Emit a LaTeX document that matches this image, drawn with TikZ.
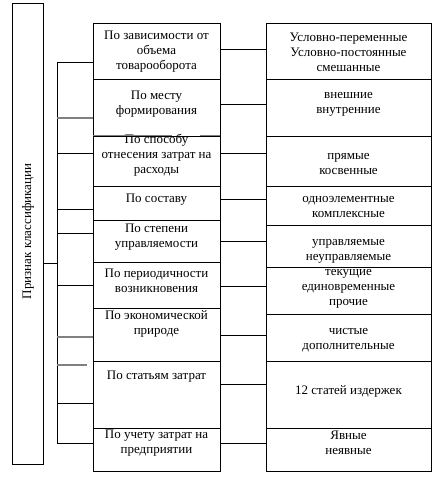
\documentclass[tikz,border=0pt]{standalone}
\usepackage{fontspec}
\setmainfont{Liberation Serif}
\begin{document}
\begin{tikzpicture}[
		x=1pt, y=-1pt,
		kb/.style={rectangle, draw, line width=0.8pt, minimum width=31pt, minimum height=461pt, inner sep=0pt},
		mb/.style={rectangle, draw, line width=0.8pt, minimum width=127pt, inner sep=0pt},
		rb/.style={rectangle, draw, line width=0.8pt, minimum width=165pt, inner sep=0pt},
		tx/.style={align=center, inner sep=0pt, yshift=-1.5pt, font=\fontsize{13}{15}\selectfont},
		ln/.style={line width=0.8pt},
		gl/.style={line width=1.2pt, draw=black!50}
		]
		
		\useasboundingbox (0,0) rectangle (438,480);
		
		%Nodes
		\node[kb]			(k)		at (27.5, 233.5)	{};
		\node[tx, rotate=90]	(kt)	at (28, 230)		{Признак классификации};
		
		\node[mb, minimum height=56pt]	(m1)	at (156.5, 51)		{};
		\node[mb, minimum height=57pt]	(m2)	at (156.5, 107.5)	{};
		\node[mb, minimum height=50pt]	(m3)	at (156.5, 161)		{};
		\node[mb, minimum height=34pt]	(m4)	at (156.5, 203)		{};
		\node[mb, minimum height=42pt]	(m5)	at (156.5, 241)		{};
		\node[mb, minimum height=46pt]	(m6)	at (156.5, 285)		{};
		\node[mb, minimum height=53pt]	(m7)	at (156.5, 334.5)	{};
		\node[mb, minimum height=67pt]	(m8)	at (156.5, 394.5)	{};
		\node[mb, minimum height=43pt]	(m9)	at (156.5, 449.5)	{};
		
		\node[rb, minimum height=56pt]	(r1)	at (348.5, 51)		{};
		\node[rb, minimum height=57pt]	(r2)	at (348.5, 107.5)	{};
		\node[rb, minimum height=50pt]	(r3)	at (348.5, 161)		{};
		\node[rb, minimum height=39pt]	(r4)	at (348.5, 205.5)	{};
		\node[rb, minimum height=42pt]	(r5)	at (348.5, 246)		{};
		\node[rb, minimum height=47pt]	(r6)	at (348.5, 290.5)	{};
		\node[rb, minimum height=47pt]	(r7)	at (348.5, 337.5)	{};
		\node[rb, minimum height=67pt]	(r8)	at (348.5, 394.5)	{};
		\node[rb, minimum height=43pt]	(r9)	at (348.5, 449.5)	{};
		
		%Texts
		\node[tx]	(m1t)	at (m1 |- 0,50.5)	{По зависимости от\\ объема\\ товарооборота};
		\node[tx]	(m2t)	at (m2 |- 0,103)	{По месту\\ формирования};
		\node[tx]	(m3t)	at (m3 |- 0,153.5)	{По способу\\ отнесения затрат на\\ расходы};
		\node[tx]	(m4t)	at (m4 |- 0,198)	{По составу};
		\node[tx]	(m5t)	at (m5 |- 0,235.5)	{По степени\\ управляемости};
		\node[tx]	(m6t)	at (m6 |- 0,279.5)	{По периодичности\\ возникновения};
		\node[tx]	(m7t)	at (m7 |- 0,322.5)	{По экономической\\ природе};
		\node[tx]	(m8t)	at (m8 |- 0,375)	{По статьям затрат};
		\node[tx]	(m9t)	at (m9 |- 0,441.5)	{По учету затрат на\\ предприятии};
		
		\node[tx]	(r1t)	at (r1 |- 0,50.5)	{Условно-переменные\\ Условно-постоянные\\ смешанные};
		\node[tx]	(r2t)	at (r2 |- 0,103)	{внешние\\ внутренние};
		\node[tx]	(r3t)	at (r3 |- 0,162)	{прямые\\ косвенные};
		\node[tx]	(r4t)	at (r4 |- 0,205)	{одноэлементные\\ комплексные};
		\node[tx]	(r5t)	at (r5 |- 0,250)	{управляемые\\ неуправляемые};
		\node[tx]	(r6t)	at (r6 |- 0,287)	{текущие\\ единовременные\\ прочие};
		\node[tx]	(r7t)	at (r7 |- 0,338.5)	{чистые\\ дополнительные};
		\node[tx]	(r8t)	at (r8 |- 0,390)	{12 статей издержек};
		\node[tx]	(r9t)	at (r9 |- 0,441)	{Явные\\ неявные};
		
		\coordinate (bt) at (57, 62);
		\coordinate (bb) at (57, 443);
		
		%Lines
		\draw[ln] (m1.west |- bt) -- (bt) -- (bb) -- (m9.west |- bb);
		\draw[ln] (k.east |- 0,263) -- (bt |- 0,263);
		
		\draw[gl] (bt |- 0,118) -- (m2.west |- 0,118);
		\draw[ln] (bt |- 0,153) -- (m3.west |- 0,153);
		\draw[ln] (bt |- 0,209) -- (m4.west |- 0,209);
		\draw[ln] (bt |- 0,233) -- (m5.west |- 0,233);
		\draw[ln] (bt |- 0,285) -- (m6.west |- 0,285);
		\draw[gl] (bt |- 0,337) -- (m7.west |- 0,337);
		\draw[gl] (bt |- 0,365) -- ([xshift=-6pt]m8.west |- 0,365);
		\draw[ln] (bt |- 0,403) -- (m8.west |- 0,403);
		\draw[gl] (m3.north west) -- ++(79,0);
		\draw[gl] (m3.north east) -- ++(-20,0);
		
		\draw[ln] (m1.east |- 0,49)  -- (r1.west |- 0,49);
		\draw[ln] (m2.east |- 0,104) -- (r2.west |- 0,104);
		\draw[ln] (m3.east |- 0,153) -- (r3.west |- 0,153);
		\draw[ln] (m4.east |- 0,199) -- (r4.west |- 0,199);
		\draw[ln] (m5.east |- 0,241) -- (r5.west |- 0,241);
		\draw[ln] (m6.east |- 0,286) -- (r6.west |- 0,286);
		\draw[ln] (m7.east |- 0,335) -- (r7.west |- 0,335);
		\draw[ln] (m8.east |- 0,384) -- (r8.west |- 0,384);
		\draw[ln] (m9.east |- 0,443) -- (r9.west |- 0,443);
		
	\end{tikzpicture}
\end{document}
